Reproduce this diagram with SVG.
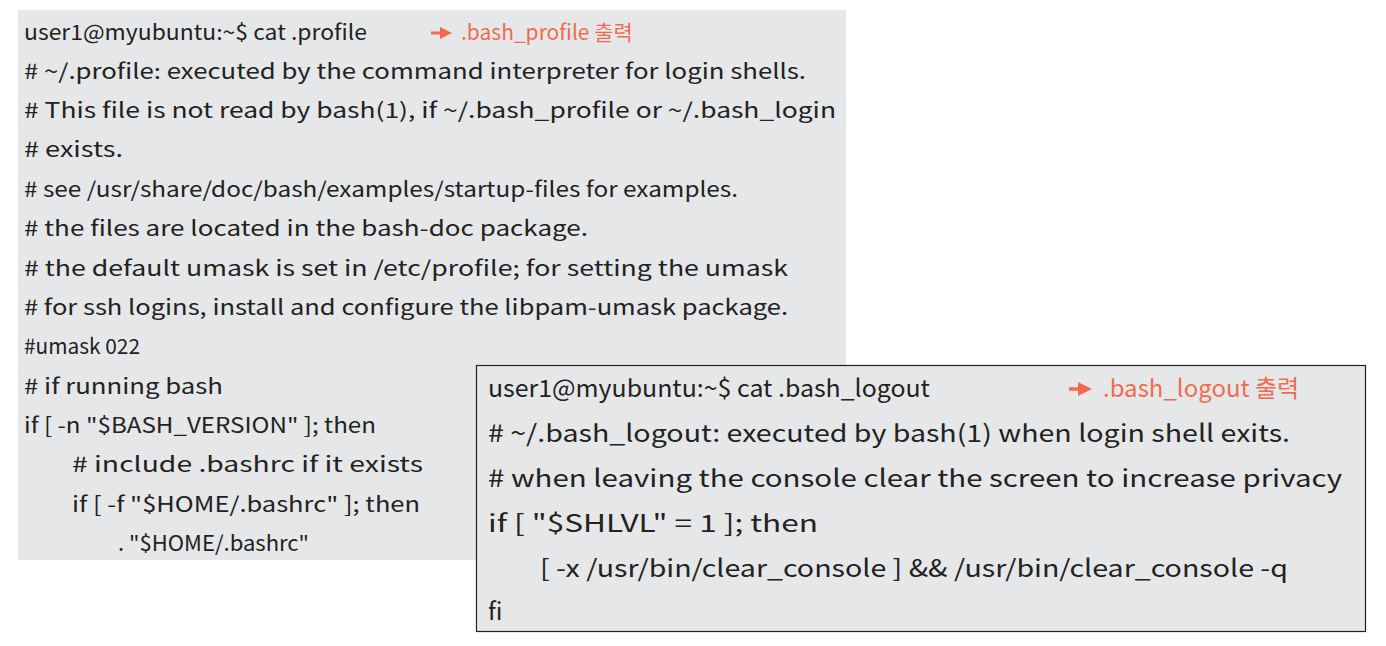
<svg xmlns="http://www.w3.org/2000/svg" width="1386" height="646" viewBox="0 0 1386 646">
<style>
.t{font-family:"Noto Sans CJK KR","Noto Sans",sans-serif;fill:#222;}
.l{font-size:21px}
.r{font-size:24px}
.red{fill:#f26b4f}
</style>
<defs><marker id="ah" markerWidth="4" markerHeight="4" refX="2" refY="2" orient="auto"><path d="M0,0L4,2L0,4z" fill="#f26b4f"/></marker></defs>
<rect width="1386" height="646" fill="#fff"/>
<g id="profile">
<rect x="18" y="10" width="828" height="550" fill="#e6e7e9"/>
<g class="t l" text-anchor="start">
<text x="24" y="40" textLength="343" lengthAdjust="spacingAndGlyphs">user1@myubuntu:~$ cat .profile</text>
<text x="24" y="79" textLength="782" lengthAdjust="spacingAndGlyphs"># ~/.profile: executed by the command interpreter for login shells.</text>
<text x="24" y="118" textLength="812" lengthAdjust="spacingAndGlyphs"># This file is not read by bash(1), if ~/.bash_profile or ~/.bash_login</text>
<text x="24" y="157" textLength="99" lengthAdjust="spacingAndGlyphs"># exists.</text>
<text x="24" y="197" textLength="714" lengthAdjust="spacingAndGlyphs"># see /usr/share/doc/bash/examples/startup-files for examples.</text>
<text x="24" y="236" textLength="564" lengthAdjust="spacingAndGlyphs"># the files are located in the bash-doc package.</text>
<text x="24" y="276" textLength="764" lengthAdjust="spacingAndGlyphs"># the default umask is set in /etc/profile; for setting the umask</text>
<text x="24" y="315" textLength="764" lengthAdjust="spacingAndGlyphs"># for ssh logins, install and configure the libpam-umask package.</text>
<text x="24" y="354" textLength="116" lengthAdjust="spacingAndGlyphs">#umask 022</text>
<text x="24" y="394" textLength="199" lengthAdjust="spacingAndGlyphs"># if running bash</text>
<text x="24" y="433" textLength="352" lengthAdjust="spacingAndGlyphs">if [ -n "$BASH_VERSION" ]; then</text>
<text x="72" y="472" textLength="351" lengthAdjust="spacingAndGlyphs"># include .bashrc if it exists</text>
<text x="72" y="512" textLength="348" lengthAdjust="spacingAndGlyphs">if [ -f "$HOME/.bashrc" ]; then</text>
<text x="118" y="551" textLength="191" lengthAdjust="spacingAndGlyphs">. "$HOME/.bashrc"</text>
</g>
<path d="M431,33H446" stroke="#f26b4f" stroke-width="3" marker-end="url(#ah)"/>
<text class="t l red" x="461" y="40">.bash_profile 출력</text>
</g>
<g id="logout">
<rect x="476.5" y="365.5" width="889" height="266" fill="#e6e7e9" stroke="#222" stroke-width="1.2"/>
<g class="t r">
<text x="488" y="397" textLength="442" lengthAdjust="spacingAndGlyphs">user1@myubuntu:~$ cat .bash_logout</text>
<text x="488" y="442" textLength="802" lengthAdjust="spacingAndGlyphs"># ~/.bash_logout: executed by bash(1) when login shell exits.</text>
<text x="488" y="487" textLength="854" lengthAdjust="spacingAndGlyphs"># when leaving the console clear the screen to increase privacy</text>
<text x="488" y="532" textLength="330" lengthAdjust="spacingAndGlyphs">if [ "$SHLVL" = 1 ]; then</text>
<text x="540" y="577" textLength="748" lengthAdjust="spacingAndGlyphs">[ -x /usr/bin/clear_console ] &amp;&amp; /usr/bin/clear_console -q</text>
<text x="488" y="620">fi</text>
</g>
<path d="M1069,389H1085" stroke="#f26b4f" stroke-width="3.5" marker-end="url(#ah)"/>
<text class="t r red" x="1103" y="397">.bash_logout 출력</text>
</g>
<g id="connectors"/>
</svg>
